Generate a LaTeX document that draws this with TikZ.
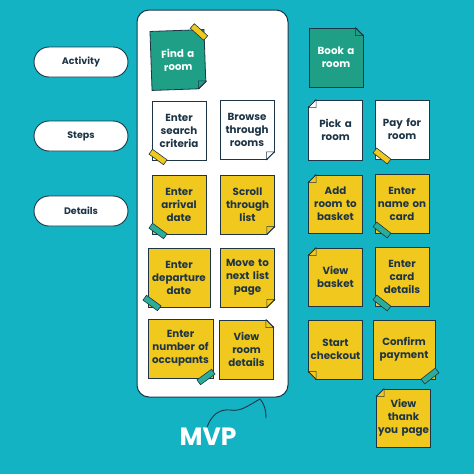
\documentclass[tikz,border=0pt]{standalone}
\usepackage{fontspec}
\setmainfont{Poppins}
\usepackage{xcolor}
\definecolor{mteal}{HTML}{14B3C4}
\definecolor{mnavy}{HTML}{1D3547}
\definecolor{mgreen}{HTML}{1F9F85}
\definecolor{myellow}{HTML}{F0C81E}
\definecolor{mtape}{HTML}{2AAE9A}

\tikzset{
	note/.style={draw=mnavy, line width=0.8pt, minimum width=54pt, minimum height=59pt,
		text width=54pt, align=center, inner sep=0pt, text=mnavy,
		font=\bfseries\fontsize{10.3}{13}\selectfont},
	greennote/.style={note, fill=mgreen, text=white},
	whitenote/.style={note, fill=white},
	yellownote/.style={note, fill=myellow},
	tape/.style={draw=mnavy, line width=0.6pt, minimum width=18pt, minimum height=6pt, inner sep=0pt},
	pill/.style={draw=mnavy, fill=white, line width=0.9pt, minimum width=94pt, minimum height=30pt,
		rounded corners=15pt, text=mnavy, font=\bfseries\fontsize{9.5}{11}\selectfont},
	mvpbox/.style={draw=mnavy, fill=white, line width=1pt, rounded corners=12pt}
}

% folded corner: anchor, x sign, y sign (towards the inside), cut colour, flap colour
\newcommand{\fold}[5]{%
	\fill[#4] (#1) ++({8*(#2)},{-1*(#3)}) -- ++({-9*(#2)},0) -- ++(0,{9*(#3)}) -- cycle;
	\filldraw[fill=#5, draw=mnavy, line width=0.6pt, line join=round] (#1) ++({8*(#2)},0) -- ++({-8*(#2)},{8*(#3)}) -- ++({8*(#2)},0) -- cycle;
	\draw[mnavy, line width=0.8pt] (#1) ++({8*(#2)},0) -- ++({-8*(#2)},{8*(#3)});
}

\begin{document}
\begin{tikzpicture}[x=1pt, y=-1pt]
	\fill[mteal] (0,0) rectangle (474,474);
	\useasboundingbox (0,0) rectangle (474,474);

	% rows
	\node[pill] (activity) at (81,62) {Activity};
	\node[pill] (steps) at (81,136) {Steps};
	\node[pill] (details) at (81,211) {Details};

	% mvp slice
	\draw[mvpbox] (137,10) rectangle (288,397);

	\node[greennote, rotate=2] (find) at (178,60) {Find a\\room};
	\node[whitenote] (search) at (179,130.5) {Enter\\search\\criteria};
	\node[whitenote] (browse) at (247,130) {Browse\\through\\rooms};
	\node[yellownote] (arrival) at (179,204.5) {Enter\\arrival\\date};
	\node[yellownote, minimum width=53pt] (scroll) at (247.5,204.5) {Scroll\\through\\list};
	\node[yellownote, minimum width=62pt, text width=62pt] (departure) at (179,277.5) {Enter\\departure\\date};
	\node[yellownote, minimum width=53pt] (move) at (247.5,277.5) {Move to\\next list\\page};
	\node[yellownote, minimum width=65pt, text width=65pt] (occupants) at (180.5,348.5) {Enter\\number of\\occupants};
	\node[yellownote, minimum width=53pt] (viewroom) at (246.5,349.5) {View\\room\\details};

	% booking
	\node[greennote] (book) at (336,57.5) {Book a\\room};
	\node[whitenote, minimum width=53pt, minimum height=60pt] (pick) at (335.5,130) {Pick a\\room};
	\node[whitenote] (pay) at (402,129.5) {Pay for\\room};
	\node[yellownote, minimum width=53pt, minimum height=58pt] (add) at (335.5,204) {Add\\room to\\basket};
	\node[yellownote] (name) at (402,203.5) {Enter\\name on\\card};
	\node[yellownote, minimum width=53pt, minimum height=58pt] (basket) at (335.5,277) {View\\basket};
	\node[yellownote] (card) at (402,276.5) {Enter\\card\\details};
	\node[yellownote, minimum width=53pt] (checkout) at (335.5,349.5) {Start\\checkout};
	\node[yellownote, minimum width=62pt, text width=62pt] (confirm) at (404,349.5) {Confirm\\payment};
	\node[yellownote, minimum width=53pt, minimum height=58pt] (thanks) at (403.5,418) {View\\thank\\you page};

	% folded corners
	\fold{find.south east}{-1}{-1}{white}{mgreen}
	\fold{browse.south east}{-1}{-1}{white}{white}
	\fold{scroll.south east}{-1}{-1}{white}{myellow}
	\fold{move.south east}{-1}{-1}{white}{myellow}
	\fold{viewroom.north east}{-1}{1}{white}{myellow}
	\fold{book.north east}{-1}{1}{mteal}{mgreen}
	\fold{pick.north west}{1}{1}{mteal}{white}
	\fold{add.north west}{1}{1}{mteal}{myellow}
	\fold{basket.north west}{1}{1}{mteal}{myellow}
	\fold{checkout.south west}{1}{-1}{mteal}{myellow}
	\fold{thanks.north west}{1}{1}{mteal}{myellow}

	% tapes
	\node[tape, fill=myellow, rotate=-42] at (199,32) {};
	\node[tape, fill=myellow, rotate=-36] at (158,157) {};
	\node[tape, fill=myellow, rotate=-38] at (382,156) {};
	\node[tape, fill=mtape, rotate=-36] at (158,231) {};
	\node[tape, fill=mtape, rotate=-36] at (152,303) {};
	\node[tape, fill=mtape, rotate=36] at (206,377) {};
	\node[tape, fill=mtape, rotate=-38] at (382,230) {};
	\node[tape, fill=mtape, rotate=-38] at (382,303) {};
	\node[tape, fill=mtape, rotate=38] at (430,376) {};

	% label
	\node[text=white, font=\bfseries\fontsize{25}{25}\selectfont] (mvp) at (208,437) {MVP};
	\coordinate (curl) at (266,418);
	\draw[mnavy, line width=0.9pt, line cap=round] (207,427) .. controls (212,414) and (220,409) .. (230,410)
		.. controls (241,412) and (249,405) .. (260,399) .. controls (265,405) and (266,411) .. (curl);
\end{tikzpicture}
\end{document}
